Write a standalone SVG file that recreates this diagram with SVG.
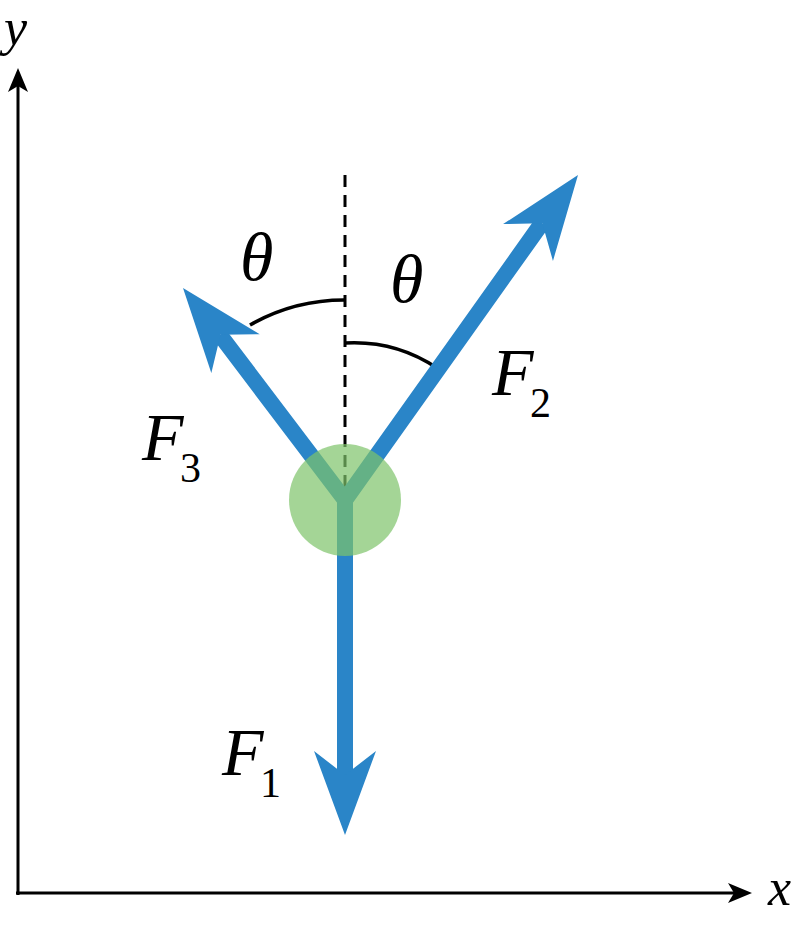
<svg xmlns="http://www.w3.org/2000/svg" width="806" height="926" viewBox="0 0 806 926">
<style>
.f{stroke:#2a85c8;stroke-width:16;fill:none}
.t{font-family:"Liberation Serif","Times New Roman",serif;font-style:italic;fill:#000}
.ax{stroke:#000;stroke-width:3;fill:none}
</style>
<defs>
<path id="head" d="M0,0 L-84,-31 L-60,0 L-84,31 Z" fill="#2a85c8"/>
<path id="ah" d="M0,0 L-24,-10 L-18,0 L-24,10 Z" fill="#000"/>
</defs>
<rect width="806" height="926" fill="#fff"/>
<g id="axes">
<line class="ax" x1="18" y1="895" x2="18" y2="80"/>
<line class="ax" x1="16" y1="893" x2="740" y2="893"/>
<use href="#ah" transform="translate(18,68) rotate(-90)"/>
<use href="#ah" transform="translate(752,893)"/>
<text class="t" x="4" y="45" font-size="52">y</text>
<text class="t" x="768" y="905" font-size="52">x</text>
</g>
<g id="connectors">
<line x1="345" y1="175" x2="345" y2="490" stroke="#000" stroke-width="3" stroke-dasharray="12,8"/>
<path d="M250,325 A190,190 0 0 1 345,300" stroke="#000" stroke-width="3.5" fill="none"/>
<path d="M345,343 A150,150 0 0 1 437,368" stroke="#000" stroke-width="3.5" fill="none"/>
<path class="f" d="M345,775 L345,500 M345,500 L542,223 M345,500 L220,335"/>
<use href="#head" transform="translate(345,835) rotate(90)"/>
<use href="#head" transform="translate(578,175) rotate(-53.5)"/>
<use href="#head" transform="translate(183,288) rotate(-128.7)"/>
</g>
<g id="body"><circle cx="345" cy="500" r="56" fill="#7dc36a" fill-opacity="0.7"/></g>
<g id="labels">
<text class="t" x="240" y="280" font-size="68">θ</text>
<text class="t" x="390" y="302" font-size="68">θ</text>
<text class="t" x="142" y="460" font-size="68">F</text>
<text x="180" y="482" font-family="Liberation Serif,serif" font-size="42">3</text>
<text class="t" x="492" y="395" font-size="68">F</text>
<text x="530" y="417" font-family="Liberation Serif,serif" font-size="42">2</text>
<text class="t" x="222" y="775" font-size="68">F</text>
<text x="260" y="797" font-family="Liberation Serif,serif" font-size="42">1</text>
</g>
</svg>
